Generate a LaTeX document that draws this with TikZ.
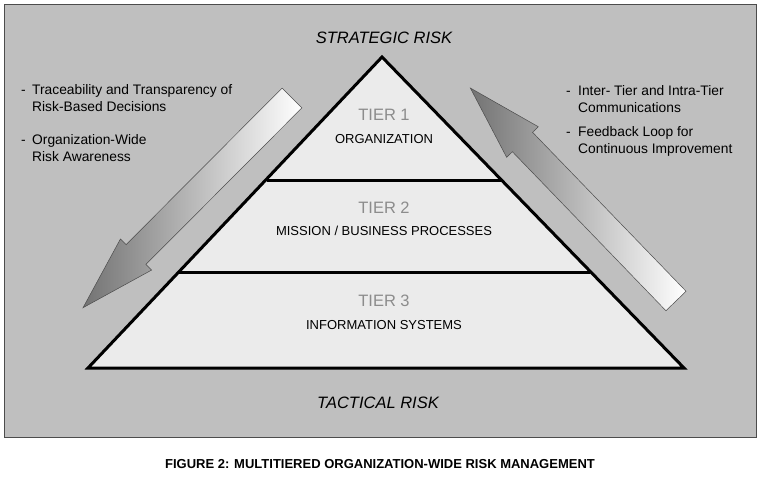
\documentclass[tikz,border=0pt]{standalone}
\usepackage{fontspec}
\setmainfont{Liberation Sans}
\begin{document}
\begin{tikzpicture}[x=1pt,y=-1pt,
  txt/.style={font=\fontsize{13.8}{16}\selectfont, anchor=base west, inner sep=0pt},
  tier/.style={font=\fontsize{16.5}{18}\selectfont, text=black!45, inner sep=0pt},
  lbl/.style={font=\fontsize{13}{15}\selectfont, inner sep=0pt},
  arrowshape/.style={draw=black!70, line width=0.5pt}]
\useasboundingbox (0,0) rectangle (760,478);
\fill[white] (0,0) rectangle (760,478);
\draw[fill=black!25, draw=black!70, line width=0.6pt] (4,4) rectangle (756,437);
% pyramid
\coordinate (apex) at (382,57);
\coordinate (bl) at (88,368);
\coordinate (br) at (684,368);
\fill[black!8] (apex) -- (br) -- (bl) -- cycle;
\draw[line width=3pt, line join=miter] (apex) -- (br) -- (bl) -- cycle;
\draw[line width=3pt] (266.5,181) -- (500.5,181);
\draw[line width=3pt] (178.5,273) -- (589.5,273);
% arrows
\begin{scope}[shift={(292,98)}, rotate=225.1]
  \shade[left color=black!55, right color=white, arrowshape]
    (0,-14) -- (221,-14) -- (221,-22) -- (296,0) -- (221,22) -- (221,14) -- (0,14) -- cycle;
\end{scope}
\begin{scope}[shift={(676,301)}, rotate=134]
  \shade[left color=black!55, right color=white, arrowshape]
    (0,-14) -- (221,-14) -- (221,-22) -- (296,0) -- (221,22) -- (221,14) -- (0,14) -- cycle;
\end{scope}
% labels
\node[font=\fontsize{16.5}{18}\selectfont\itshape, inner sep=0pt] (strat) at (384,38) {STRATEGIC RISK};
\node[font=\fontsize{16.5}{18}\selectfont\itshape, inner sep=0pt] (tact) at (378,403) {TACTICAL RISK};
\node[tier] (t1) at (384,115) {TIER 1};
\node[lbl] (o1) at (384,139) {ORGANIZATION};
\node[tier] (t2) at (384,208) {TIER 2};
\node[lbl] (o2) at (384,231) {MISSION / BUSINESS PROCESSES};
\node[tier] (t3) at (384,301) {TIER 3};
\node[lbl] (o3) at (384,325) {INFORMATION SYSTEMS};
% left text
\node[txt] (ld1) at (21,95) {-};
\node[txt] (la1) at (32,95) {Traceability and Transparency of};
\node[txt] (la2) at (32,112) {Risk-Based Decisions};
\node[txt] (ld2) at (21,145) {-};
\node[txt] (lb1) at (32,145) {Organization-Wide};
\node[txt] (lb2) at (32,162) {Risk Awareness};
% right text
\node[txt] (rd1) at (566,96) {-};
\node[txt] (ra1) at (578,96) {Inter- Tier and Intra-Tier};
\node[txt] (ra2) at (578,113) {Communications};
\node[txt] (rd2) at (566,137) {-};
\node[txt] (rb1) at (578,137) {Feedback Loop for};
\node[txt] (rb2) at (578,154) {Continuous Improvement};
% caption
\node[font=\fontsize{13}{15}\selectfont\bfseries, inner sep=0pt] (cap) at (380,464) {FIGURE 2: MULTITIERED ORGANIZATION-WIDE RISK MANAGEMENT};
\end{tikzpicture}
\end{document}
